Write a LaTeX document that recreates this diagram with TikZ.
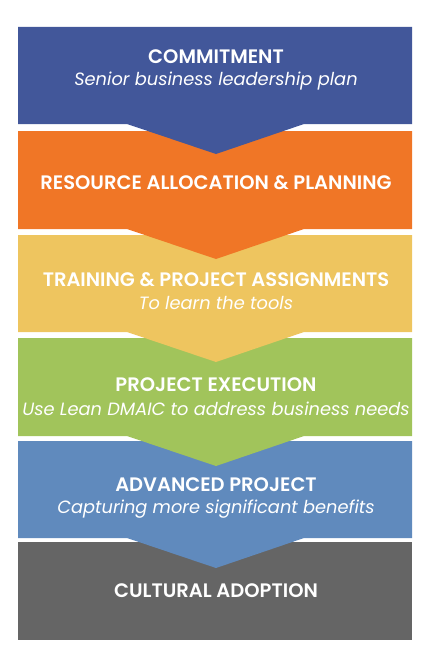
\documentclass[tikz,border=0pt]{standalone}
\usepackage{fontspec}
\setmainfont{Poppins}[BoldFont={Poppins SemiBold}]
\definecolor{cblue}{HTML}{42579A}
\definecolor{corange}{HTML}{F07626}
\definecolor{cyellow}{HTML}{EEC55F}
\definecolor{cgreen}{HTML}{A1C45B}
\definecolor{csteel}{HTML}{608ABD}
\definecolor{cgrey}{HTML}{656565}
\tikzset{
  head/.style={text=white,font=\bfseries\fontsize{19.5}{22}\selectfont,inner sep=0pt,anchor=center},
  sub/.style={text=white,font=\itshape\fontsize{17.8}{21}\selectfont,inner sep=0pt,anchor=center},
}
\newcommand{\chevpanel}[3]{% color, top, bottom
  \fill[#1] (18,#2) -- (412,#2) -- (412,#3) -- (304,#3) -- (216,#3+30) -- (127,#3) -- (18,#3) -- cycle;
}
\begin{document}
\begin{tikzpicture}[x=1pt,y=-1pt]
\useasboundingbox (0,0) rectangle (433,669);
\fill[cgrey] (18,542) rectangle (412,640);
\chevpanel{csteel}{441}{538}
\chevpanel{cgreen}{338}{436}
\chevpanel{cyellow}{235}{332}
\chevpanel{corange}{131}{229}
\chevpanel{cblue}{27}{124}
\node[head] (h1) at (216,57) {COMMITMENT};
\node[sub]  (s1) at (216,81) {Senior business leadership plan};
\node[head] (h2) at (216,183) {RESOURCE ALLOCATION \& PLANNING};
\node[head] (h3) at (216,280) {TRAINING \& PROJECT ASSIGNMENTS};
\node[sub]  (s3) at (216,303) {To learn the tools};
\node[head] (h4) at (216,385) {PROJECT EXECUTION};
\node[sub]  (s4) at (216,409) {Use Lean DMAIC to address business needs};
\node[head] (h5) at (216,485) {ADVANCED PROJECT};
\node[sub]  (s5) at (216,509) {Capturing more significant benefits};
\node[head] (h6) at (216,591) {CULTURAL ADOPTION};
\end{tikzpicture}
\end{document}
